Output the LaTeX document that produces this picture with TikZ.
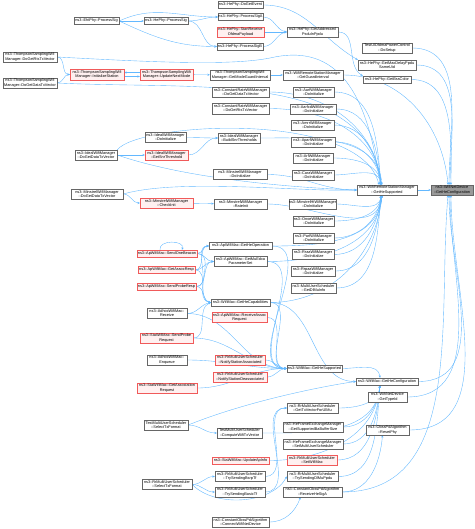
\documentclass[tikz,border=0pt]{standalone}
\usepackage{fontspec}
\setmainfont{Liberation Sans}
\usetikzlibrary{arrows.meta,backgrounds}
\definecolor{boxgray}{HTML}{666666}
\definecolor{boxred}{HTML}{F05A5A}
\definecolor{boxpink}{HTML}{FFF0F0}
\definecolor{rootgray}{HTML}{999999}
\definecolor{linkblue}{HTML}{63B8FF}
\newcommand\mynd[6]{\node[#1,minimum width=#4pt,minimum height=#5pt] (#2) at (#3) {#6};}
\begin{document}
\begin{tikzpicture}[x=1pt,y=-1pt,
  box/.style={draw=boxgray, fill=white, line width=0.4pt, inner sep=0pt, align=center, font=\fontsize{3.85}{4.2}\selectfont, text=black},
  nb/.style={box},
  rb/.style={box, draw=boxred, fill=boxpink},
  gb/.style={box, fill=rootgray},
  arr/.style={draw=linkblue, line width=0.38pt, -{Stealth[length=2.4pt,width=2.2pt]}}]
\useasboundingbox (0,0) rectangle (474,529);
% HePhy group
\mynd{nb}{ehtps}{96.5,21}{45}{7}{ns3::EhtPhy::ProcessSig}
\mynd{nb}{heps}{166,21}{44}{7}{ns3::HePhy::ProcessSig}
\mynd{nb}{hdge}{240.5,5}{45}{7}{ns3::HePhy::DoGetEvent}
\mynd{nb}{hpsa}{240.5,17}{45}{7}{ns3::HePhy::ProcessSigA}
\mynd{rb}{hsro}{240.5,32}{47}{10}{ns3::HePhy::StartReceive\\OfdmaPayload}
\mynd{nb}{hpsb}{240,46.5}{46}{7}{ns3::HePhy::ProcessSigB}
\mynd{nb}{hgap}{312.5,32}{51}{10}{ns3::HePhy::GetAddressed\\PsduInPpdu}
\mynd{nb}{tulo}{387,48}{50}{10}{TestUlOfdmaPowerControl\\::DoSetup}
\mynd{nb}{hgmd}{387,65}{58}{10}{ns3::HePhy::GetMaxDelayPpdu\\SameUid}
\mynd{nb}{hgbc}{387,79.5}{48}{7}{ns3::HePhy::GetBssColor}
% Thompson
\mynd{nb}{tsrts}{30,57}{54}{10}{ns3::ThompsonSamplingWifi\\Manager::DoGetRtsTxVector}
\mynd{nb}{tsdata}{30,83}{54}{10}{ns3::ThompsonSamplingWifi\\Manager::DoGetDataTxVector}
\mynd{rb}{tsinit}{97,74.5}{54}{11}{ns3::ThompsonSamplingWifi\\Manager::InitializeStation}
\mynd{rb}{tsupd}{166.5,74.5}{53}{11}{ns3::ThompsonSamplingWifi\\Manager::UpdateNextMode}
\mynd{nb}{tsgi}{240,75}{60}{10}{ns3::ThompsonSamplingWifi\\Manager::GetModeGuardInterval}
\mynd{nb}{rsmgi}{313,75}{60}{10}{ns3::WifiRemoteStationManager\\::GetGuardInterval}
% Constant rate
\mynd{nb}{crdata}{240.5,92}{57}{10}{ns3::ConstantRateWifiManager\\::DoGetDataTxVector}
\mynd{nb}{crrts}{240.5,108.5}{57}{11}{ns3::ConstantRateWifiManager\\::DoGetRtsTxVector}
% DoInitialize column
\mynd{nb}{aarf}{313.5,92}{41}{10}{ns3::AarfWifiManager\\::DoInitialize}
\mynd{nb}{aarfcd}{313,109}{46}{10}{ns3::AarfcdWifiManager\\::DoInitialize}
\mynd{nb}{amrr}{312.5,125}{43}{10}{ns3::AmrrWifiManager\\::DoInitialize}
\mynd{nb}{aparf}{313,142}{44}{10}{ns3::AparfWifiManager\\::DoInitialize}
\mynd{nb}{arf}{313,158}{40}{10}{ns3::ArfWifiManager\\::DoInitialize}
\mynd{nb}{cara}{313,175}{42}{10}{ns3::CaraWifiManager\\::DoInitialize}
\mynd{nb}{mht}{312.5,204}{47}{10}{ns3::MinstrelHtWifiManager\\::DoInitialize}
\mynd{nb}{onoe}{313.5,221}{41}{10}{ns3::OnoeWifiManager\\::DoInitialize}
\mynd{nb}{parf}{313.5,238}{41}{10}{ns3::ParfWifiManager\\::DoInitialize}
\mynd{nb}{rraa}{313,254.5}{42}{10}{ns3::RraaWifiManager\\::DoInitialize}
\mynd{nb}{rrpaa}{313,271}{44}{10}{ns3::RrpaaWifiManager\\::DoInitialize}
\mynd{nb}{mus}{313.5,288}{45}{10}{ns3::MultiUserScheduler\\::GetDlMuInfo}
% Ideal
\mynd{nb}{idata}{96,155}{42}{10}{ns3::IdealWifiManager\\::DoGetDataTxVector}
\mynd{nb}{iinit}{165.5,137.5}{41}{10}{ns3::IdealWifiManager\\::DoInitialize}
\mynd{rb}{isnr}{166.5,155}{43}{10}{ns3::IdealWifiManager\\::GetSnrThreshold}
\mynd{nb}{ibuild}{239,138}{42}{10}{ns3::IdealWifiManager\\::BuildSnrThresholds}
% Minstrel
\mynd{nb}{mdata}{97,194}{52}{10}{ns3::MinstrelWifiManager\\::DoGetDataTxVector}
\mynd{rb}{mcheck}{166.5,203}{53}{10}{ns3::MinstrelWifiManager\\::CheckInit}
\mynd{nb}{minit}{240,174.5}{54}{10}{ns3::MinstrelWifiManager\\::DoInitialize}
\mynd{nb}{mrate}{240.5,204}{53}{10}{ns3::MinstrelWifiManager\\::RateInit}
% RSM and root
\mynd{nb}{rsmhe}{387,190}{60}{10}{ns3::WifiRemoteStationManager\\::GetHeSupported}
\mynd{gb}{root}{452,190}{42}{10}{ns3::WifiNetDevice\\::GetHeConfiguration}
% Mac group
\mynd{nb}{apheop}{240.5,246}{63}{7}{ns3::ApWifiMac::GetHeOperation}
\mynd{nb}{apmuedca}{240.5,261.5}{53}{10}{ns3::ApWifiMac::GetMuEdca\\ParameterSet}
\mynd{rb}{apbeacon}{167,253.5}{60}{7}{ns3::ApWifiMac::SendOneBeacon}
\mynd{rb}{apassoc}{166.5,270}{57}{7}{ns3::ApWifiMac::GetAssocResp}
\mynd{rb}{approbe}{166.5,286.5}{59}{7}{ns3::ApWifiMac::SendProbeResp}
\mynd{nb}{wmhecap}{240.5,302.5}{59}{7}{ns3::WifiMac::GetHeCapabilities}
\mynd{nb}{adhocrx}{167,313.5}{40}{10}{ns3::AdhocWifiMac::\\Receive}
\mynd{rb}{aprxassoc}{239.5,317.5}{55}{10}{ns3::ApWifiMac::ReceiveAssoc\\Request}
\mynd{rb}{staprobe}{166.5,338}{53}{10}{ns3::StaWifiMac::SendProbe\\Request}
\mynd{nb}{adhocenq}{167,360}{40}{10}{ns3::AdhocWifiMac::\\Enqueue}
\mynd{rb}{rrnsa}{240,360}{50}{10}{ns3::RrMultiUserScheduler\\::NotifyStationAssociated}
\mynd{rb}{rrnsd}{240,377}{54}{10}{ns3::RrMultiUserScheduler\\::NotifyStationDeassociated}
\mynd{rb}{apgetassocreq}{167,388}{60}{10}{ns3::StaWifiMac::GetAssociation\\Request}
\mynd{nb}{wmhesup}{314.5,368.5}{55}{7}{ns3::WifiMac::GetHeSupported}
\mynd{nb}{wmhecfg}{387,381.5}{62}{7}{ns3::WifiMac::GetHeConfiguration}
\mynd{nb}{wndtype}{387.5,397}{39}{10}{ns3::WifiNetDevice\\::GetTypeId}
\mynd{nb}{obssreset}{387.5,430}{43}{10}{ns3::ObssPdAlgorithm\\::ResetPhy}
% lower group
\mynd{nb}{tmsel}{166,425}{44}{10}{TestMultiUserScheduler\\::SelectTxFormat}
\mynd{nb}{tmcomp}{239.5,433}{45}{10}{TestMultiUserScheduler\\::ComputeWifiTxVector}
\mynd{nb}{rrulmu}{312.5,408}{51}{10}{ns3::RrMultiUserScheduler\\::GetTxVectorForUlMu}
\mynd{nb}{hefba}{313,427}{60}{10}{ns3::HeFrameExchangeManager\\::GetSupportedBaBufferSize}
\mynd{nb}{hefmus}{313,444}{60}{10}{ns3::HeFrameExchangeManager\\::SetMultiUserScheduler}
\mynd{rb}{rrsetmac}{312,460}{50}{10}{ns3::RrMultiUserScheduler\\::SetWifiMac}
\mynd{rb}{staupd}{240.5,460.5}{57}{7}{ns3::StaWifiMac::UpdateApInfo}
\mynd{nb}{rrbsrp}{240,476.5}{50}{10}{ns3::RrMultiUserScheduler\\::TrySendingBsrpTf}
\mynd{nb}{rrbasic}{240,492}{50}{10}{ns3::RrMultiUserScheduler\\::TrySendingBasicTf}
\mynd{nb}{rrsel}{167,484.5}{50}{10}{ns3::RrMultiUserScheduler\\::SelectTxFormat}
\mynd{nb}{rrdlmu}{312.5,476.5}{51}{10}{ns3::RrMultiUserScheduler\\::TrySendingDlMuPpdu}
\mynd{nb}{cobrx}{312.5,492}{59}{10}{ns3::ConstantObssPdAlgorithm\\::ReceiveHeSigA}
\mynd{nb}{cobconn}{240.5,522}{57}{10}{ns3::ConstantObssPdAlgorithm\\::ConnectWifiNetDevice}

\begin{scope}[on background layer]
% HePhy
\draw[arr] (ehtps) -- (heps);
\draw[arr] (ehtps.east) to[out=25,in=180] (hpsa.west);
\draw[arr] (ehtps.east) to[out=-25,in=180] (hpsb.west);
\draw[arr] (heps.east) to[out=0,in=180] (hpsa.west);
\draw[arr] (heps.east) to[out=0,in=180] (hpsb.west);
\draw[arr] (hpsa.east) to[out=0,in=170] (hgap.west);
\draw[arr] (hsro) -- (hgap);
\draw[arr] (hpsb.east) to[out=0,in=190] (hgap.west);
\draw[arr] (hdge.east) to[out=0,in=150] (hgmd.north west);
\draw[arr] (hgap.east) to[out=0,in=150] (hgbc.north west);
% to root
\draw[arr] (tulo.east) to[out=0,in=90] ([xshift=-3pt]root.north);
\draw[arr] (hgmd.east) to[out=0,in=90] ([xshift=-2pt]root.north);
\draw[arr] (hgbc.east) to[out=0,in=90] ([xshift=-1pt]root.north);
\draw[arr] (rsmgi.east) to[out=0,in=95] ([xshift=-4pt]root.north);
\draw[arr] (rsmhe) -- (root);
\draw[arr] (wmhecfg.east) to[out=0,in=-90] ([xshift=-3pt]root.south);
\draw[arr] (wndtype.east) to[out=0,in=-90] ([xshift=-2pt]root.south);
\draw[arr] (obssreset.east) to[out=0,in=-90] ([xshift=-1pt]root.south);
\draw[arr] (cobrx.east) to[out=0,in=-95] ([xshift=-4pt]root.south);
% Thompson
\draw[arr] (tsrts.east) to[out=0,in=180] (tsinit.west);
\draw[arr] (tsdata.east) to[out=0,in=180] (tsinit.west);
\draw[arr] ([yshift=-2pt]tsinit.east) -- ([yshift=-2pt]tsupd.west);
\draw[arr] ([yshift=2pt]tsupd.west) -- ([yshift=2pt]tsinit.east);
\draw[arr] (tsupd) -- (tsgi);
\draw[arr] (tsgi) -- (rsmgi);
\draw[arr] (tsrts.east) .. controls (150,62) and (230,66) .. (270,58) .. controls (330,44) and (366,80) .. ([xshift=-7pt]rsmhe.north);
\draw[arr] (tsdata.east) .. controls (200,90) and (368,70) .. ([xshift=-6pt]rsmhe.north);
% Ideal
\draw[arr] (idata) -- (isnr);
\draw[arr] (iinit.east) to[out=0,in=180] (ibuild.west);
\draw[arr] (isnr.east) to[out=0,in=180] (ibuild.west);
\draw[arr] (ibuild.east) to[out=0,in=95] ([xshift=-5pt]rsmhe.north);
\draw[arr] (idata.north east) .. controls (140,122) and (360,110) .. ([xshift=-8pt]rsmhe.north);
\draw[arr] (idata.east) .. controls (190,180) and (300,188) .. (rsmhe.west);
% Minstrel
\draw[arr] (mdata.east) to[out=0,in=180] (mcheck.west);
\draw[arr] (mdata.east) .. controls (180,178) and (300,192) .. (rsmhe.west);
\draw[arr] (mcheck) -- (mrate);
\draw[arr] (minit.east) to[out=0,in=180] (rsmhe.west);
\draw[arr] (mrate.east) to[out=0,in=-95] ([xshift=-5pt]rsmhe.south);
% callers of RSM GetHeSupported
\foreach \n in {crdata,crrts,aarf,aarfcd,amrr,aparf,arf,cara}
  \draw[arr] (\n.east) to[out=0,in=95] ([xshift=-6pt]rsmhe.north);
\foreach \n in {mht,onoe,parf,rraa,rrpaa,mus}
  \draw[arr] (\n.east) to[out=0,in=-95] ([xshift=-6pt]rsmhe.south);
% Mac group
\draw[arr] ([xshift=-7pt]apbeacon.north) .. controls +(-2,-10) and +(3,-10) .. ([xshift=15pt]apbeacon.north);
\foreach \s in {apbeacon,apassoc,approbe} {
  \draw[arr] (\s.east) to[out=0,in=180] (apheop.west);
  \draw[arr] (\s.east) to[out=0,in=180] (apmuedca.west);
  \draw[arr] (\s.east) to[out=0,in=170] (wmhecap.west);
}
\draw[arr] (adhocrx.east) to[out=0,in=190] (wmhecap.west);
\draw[arr] (staprobe.east) to[out=0,in=200] (wmhecap.west);
\foreach \s in {apheop,apmuedca,wmhecap,aprxassoc,adhocrx,staprobe,adhocenq,rrnsa,rrnsd,apgetassocreq}
  \draw[arr] (\s.east) to[out=0,in=180] (wmhesup.west);
\foreach \s in {apheop,apmuedca,wmhecap}
  \draw[arr] (\s.east) to[out=0,in=-95] ([xshift=-5pt]rsmhe.south);
\draw[arr] (wmhesup.east) to[out=0,in=95] ([xshift=-7pt]wmhecfg.north);
\draw[arr] (wmhecap.east) to[out=0,in=180] (wmhecfg.west);
% lower group
\draw[arr] (tmsel.east) to[out=0,in=180] (tmcomp.west);
\draw[arr] (tmsel.east) .. controls (250,400) and (330,385) .. (wmhecfg.west);
\foreach \s in {tmcomp,rrulmu,hefba,hefmus,rrsetmac,staupd,rrdlmu}
  \draw[arr] (\s.east) to[out=0,in=-95] ([xshift=-7pt]wmhecfg.south);
\draw[arr] (rrsel.east) to[out=0,in=180] (rrbsrp.west);
\draw[arr] (rrsel.east) to[out=0,in=180] (rrbasic.west);
\draw[arr] (rrsel.east) .. controls (215,508) and (272,504) .. (rrdlmu.west);
\draw[arr] (rrbsrp.east) to[out=0,in=180] (rrulmu.west);
\draw[arr] (rrbasic.east) to[out=0,in=180] (rrulmu.west);
\draw[arr] (cobconn.east) to[out=0,in=-110] ([xshift=-12pt]cobrx.south);
\draw[arr] (cobrx.east) to[out=0,in=-95] ([xshift=-5pt]obssreset.south);
\end{scope}
\end{tikzpicture}
\end{document}
